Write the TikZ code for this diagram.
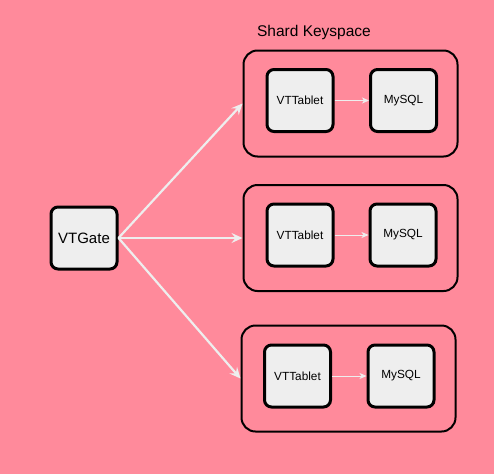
\documentclass[tikz,border=0pt]{standalone}
\usepackage{fontspec}
\setmainfont{Liberation Sans}
\usetikzlibrary{arrows.meta}
\definecolor{fondo}{HTML}{FF8A9B}
\definecolor{caja}{HTML}{EEEEEE}
\tikzset{
  servicio/.style={draw=black, line width=3pt, fill=caja, rounded corners=7pt, minimum width=66pt, minimum height=62pt, inner sep=0pt},
  shard/.style={draw=black, line width=2pt, rounded corners=14pt, minimum width=214pt, minimum height=106pt},
  flecha/.style={-{Stealth[length=11pt,width=10pt,inset=4pt]}, draw=caja, line width=2.2pt},
  flechita/.style={-{Stealth[length=7pt,width=6pt,inset=2pt]}, draw=caja, line width=0.8pt}
}
\begin{document}
\begin{tikzpicture}[x=1pt,y=-1pt]

    % Fondo
    \fill[fondo] (0,0) rectangle (494,474);
    \useasboundingbox (0,0) rectangle (494,474);

    % Titulo
    \node (titulo) at (314,32) {\fontsize{15.5pt}{17pt}\selectfont Shard Keyspace};

    % Keyspaces
    \node[shard] (s1) at (350.5,103.5) {};
    \node[shard] (s2) at (350.5,238) {};
    \node[shard] (s3) at (348.5,378.5) {};

    % VTGate
    \node[servicio, font=\fontsize{15pt}{17pt}\selectfont] (gate) at (84,238) {VTGate};

    % Tablets y MySQL
    \node[servicio, font=\fontsize{11.8pt}{13pt}\selectfont] (t1) at (300,100.5) {VTTablet};
    \node[servicio, font=\fontsize{11.8pt}{13pt}\selectfont] (m1) at (403.5,100.5) {MySQL};
    \node[servicio, font=\fontsize{11.8pt}{13pt}\selectfont] (t2) at (300,235) {VTTablet};
    \node[servicio, font=\fontsize{11.8pt}{13pt}\selectfont] (m2) at (403,235) {MySQL};
    \node[servicio, font=\fontsize{11.8pt}{13pt}\selectfont] (t3) at (297.5,376) {VTTablet};
    \node[servicio, font=\fontsize{11.8pt}{13pt}\selectfont] (m3) at (401,376) {MySQL};

    % Flechas
    \draw[flecha] (gate.east) -- (s1.west);
    \draw[flecha] (gate.east) -- (s2.west);
    \draw[flecha] (gate.east) -- (s3.west);
    \draw[flechita] (t1) -- (m1);
    \draw[flechita] (t2) -- (m2);
    \draw[flechita] (t3) -- (m3);

\end{tikzpicture}
\end{document}
